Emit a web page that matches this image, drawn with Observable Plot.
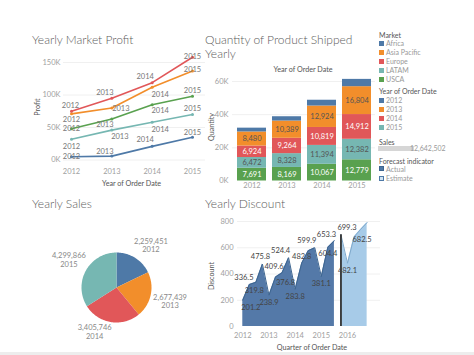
<!DOCTYPE html>
<html><head><meta charset="utf-8">
<script src="https://cdn.jsdelivr.net/npm/d3@7"></script>
<script src="https://cdn.jsdelivr.net/npm/@observablehq/plot@0.6"></script>
<style>
body{margin:0;background:#fff;}
#root{position:relative;width:474px;height:355px;overflow:hidden;background:#fff;font-family:Lato,"Open Sans",sans-serif;}
.t{position:absolute;white-space:nowrap;line-height:1;}
.sw{position:absolute;width:5px;height:5px;}
svg.pl{position:absolute;overflow:visible;}
</style></head>
<body><div id="root"></div>
<script>
// ---------- DATA ----------
const years = [2012, 2013, 2014, 2015];
const markets = ["Africa", "Asia Pacific", "Europe", "LATAM", "USCA"];
const marketColors = ["#4e79a7", "#f28e2b", "#e15759", "#76b7b2", "#59a14f"];
const yearColors = ["#4e79a7", "#f28e2b", "#e15759", "#76b7b2"];

// Yearly Market Profit
const profitAfrica = [5000, 6000, 21000, 35000];
const profitAsiaPacific = [71000, 80000, 112000, 137000];
const profitEurope = [75000, 95000, 119000, 158000];
const profitLATAM = [32000, 46000, 58000, 70000];
const profitUSCA = [48000, 63000, 85000, 98000];
const profitTicks = [0, 50000, 100000, 150000];

// Quantity of Product Shipped
const qtyAfrica = [2300, 2600, 3500, 4400];
const qtyAsiaPacific = [8480, 10389, 12924, 16804];
const qtyEurope = [6924, 9264, 10819, 14912];
const qtyLATAM = [6472, 8328, 11394, 12382];
const qtyUSCA = [7691, 8169, 10067, 12779];
const qtyTicks = [0, 20000, 40000, 60000];

// Yearly Sales
const salesByYear = [2259451, 2677439, 3405746, 4299866];
const totalSalesLabel = "12,642,502";

// Yearly Discount
const discountTicks = [0, 200, 400, 600, 800];
const quarterTicks = [2012, 2013, 2014, 2015, 2016];
const actualQuarters = ["2012 Q1","2012 Q2","2012 Q3","2012 Q4","2013 Q1","2013 Q2","2013 Q3","2013 Q4","2014 Q1","2014 Q2","2014 Q3","2014 Q4","2015 Q1","2015 Q2","2015 Q3"];
const actualDiscount = [201.2, 319.8, 336.5, 475.8, 238.9, 376.8, 409.6, 524.4, 283.8, 482.8, 578, 599.9, 381.1, 604.4, 653.3];
const estimateQuarters = ["2015 Q4","2016 Q1","2016 Q2","2016 Q3","2016 Q4"];
const estimateDiscount = [699.3, 482.1, 682.5, 740, 792];

// ---------- HELPERS ----------
const FONT = 'Lato, "Open Sans", sans-serif';
const root = document.getElementById("root");
function txt(s, x, y, o = {}) {
  const size = o.size || 7.5;
  const d = document.createElement("div");
  d.className = "t";
  d.textContent = s;
  d.style.fontSize = size + "px";
  d.style.color = o.color || "#888";
  if (o.weight) d.style.fontWeight = o.weight;
  d.style.left = x + "px";
  d.style.top = y + "px";
  let tr = o.anchor === "middle" ? "translate(-50%,-50%)" : o.anchor === "end" ? "translate(-100%,-50%)" : "translate(0,-50%)";
  if (o.rotate) tr = "translate(-50%,-50%) rotate(-90deg)";
  d.style.transform = tr;
  root.appendChild(d);
  return d;
}
function sw(x, y, color, border) {
  const d = document.createElement("div");
  d.className = "sw";
  d.style.left = x + "px"; d.style.top = (y - 2.5) + "px";
  d.style.background = color;
  if (border) { d.style.boxSizing = "border-box"; d.style.border = "1px solid " + border; }
  root.appendChild(d);
}
function place(svg, left, top) {
  svg.classList.add("pl");
  svg.style.left = left + "px"; svg.style.top = top + "px";
  root.appendChild(svg);
}
// group labels by constant pixel nudge -> one Plot.text per nudge
function nudged(rows, nudgeOf, opts) {
  const groups = d3.group(rows.filter(r => nudgeOf(r)), r => nudgeOf(r).join(","));
  return Array.from(groups, ([k, g]) => {
    const [dx, dy] = k.split(",").map(Number);
    return Plot.text(g, {...opts, dx, dy});
  });
}
const baseStyle = {fontFamily: FONT, fontSize: "7.5px", background: "transparent", color: "#999", overflow: "visible"};

// ---------- TITLES ----------
const titleStyle = {size: 12, color: "#5c5c5c", weight: 300};
txt("Yearly Market Profit", 32, 39.5, titleStyle);
txt("Quantity of Product Shipped", 205, 39.5, titleStyle);
txt("Yearly", 205, 53.5, titleStyle);
txt("Yearly Sales", 32, 204, titleStyle);
txt("Yearly Discount", 205, 204, titleStyle);
const axTitle = {color: "#555", size: 7.2};

// ---------- LINE CHART ----------
const profitSeries = {"Africa": profitAfrica, "Asia Pacific": profitAsiaPacific, "Europe": profitEurope, "LATAM": profitLATAM, "USCA": profitUSCA};
const profitRows = [];
markets.forEach(m => years.forEach((y, i) => profitRows.push({market: m, year: y, profit: profitSeries[m][i]})));
const lineNudge = {
  "Europe": [[-1,-6],[-7,-6],[-7,-6],[0,-1]],
  "Asia Pacific": [[0,6],[9,1],[8,7],[0,-1]],
  "USCA": [[0,0],[-7,6],[8,6],[0,-6]],
  "LATAM": [[0,7],[8,6],[8,7],[0,-6]],
  "Africa": [[0,0],[-7,-5],[-7,-7],[0,-5]]
};
const lineTop = 50;
place(Plot.plot({
  width: 205, height: 125, marginLeft: 63, marginRight: 0, marginTop: 0, marginBottom: 10,
  style: baseStyle,
  x: {domain: [2012, 2015], range: [71, 192]},
  y: {domain: [0, 150000], range: [159.5 - lineTop, 62 - lineTop]},
  color: {domain: markets, range: marketColors},
  marks: [
    Plot.gridY(profitTicks, {stroke: "#f0f0f0", strokeOpacity: 1}),
    Plot.axisY({ticks: profitTicks, tickFormat: d => d / 1000 + "K", tickSize: 0, tickPadding: 3, label: null, color: "#a0a0a0"}),
    Plot.axisX({ticks: years, tickFormat: d => String(d), tickSize: 0, tickPadding: 3, label: null, color: "#a0a0a0"}),
    Plot.line(profitRows, {x: "year", y: "profit", stroke: "market", strokeWidth: 1.6}),
    Plot.dot(profitRows, {x: "year", y: "profit", fill: "market", r: 1.5}),
    ...nudged(profitRows, r => lineNudge[r.market][years.indexOf(r.year)], {x: "year", y: "profit", text: d => String(d.year), fill: "#777", fontSize: 7.5})
  ]
}), 0, lineTop);
txt("Profit", 38, 107, {...axTitle, rotate: true});
txt("Year of Order Date", 131.5, 183.5, {...axTitle, anchor: "middle"});

// ---------- STACKED BAR ----------
const qtySeries = {"Africa": qtyAfrica, "Asia Pacific": qtyAsiaPacific, "Europe": qtyEurope, "LATAM": qtyLATAM, "USCA": qtyUSCA};
const stackOrder = ["USCA", "LATAM", "Europe", "Asia Pacific", "Africa"];
const qtyRows = [];
years.forEach((y, i) => stackOrder.forEach(m => qtyRows.push({year: y, market: m, qty: qtySeries[m][i]})));
const barTop = 60;
const lightText = new Set(["USCA", "Europe"]);
place(Plot.plot({
  width: 175, height: 135, marginLeft: 32, marginRight: 0, marginTop: 0, marginBottom: 135 - (180.5 - barTop),
  style: baseStyle,
  x: {domain: years, paddingInner: 0.185, paddingOuter: 0.1},
  y: {domain: [0, 60000], range: [180.5 - barTop, 81 - barTop]},
  color: {domain: markets, range: marketColors},
  marks: [
    Plot.gridY(qtyTicks.slice(1), {stroke: "#f0f0f0", strokeOpacity: 1}),
    Plot.axisY({ticks: qtyTicks, tickFormat: d => d / 1000 + "K", tickSize: 0, tickPadding: 4, label: null, color: "#a0a0a0"}),
    Plot.axisX({tickFormat: d => String(d), tickSize: 0, tickPadding: 2, label: null, color: "#a0a0a0"}),
    Plot.barY(qtyRows, {x: "year", y: "qty", fill: "market", order: null}),
    Plot.text(qtyRows, Plot.stackY({x: "year", y: "qty", order: null, text: d => lightText.has(d.market) ? d3.format(",")(d.qty) : "", fill: "white", fontSize: 7.5})),
    Plot.text(qtyRows, Plot.stackY({x: "year", y: "qty", order: null, text: d => (d.market === "LATAM" || d.market === "Asia Pacific") ? d3.format(",")(d.qty) : "", fill: "#555", fontSize: 7.5}))
  ]
}), 200, barTop);
txt("Year of Order Date", 303, 70, {...axTitle, anchor: "middle"});
txt("Quantity", 212, 127, {...axTitle, rotate: true});

// ---------- LEGEND ----------
const lg = {color: "#555", size: 7};
txt("Market", 379, 35, lg);
markets.forEach((m, i) => { const y = 43 + i * 9.1; sw(379, y, marketColors[i]); txt(m, 386, y, {color: "#999", size: 7}); });
txt("Year of Order Date", 379, 91, lg);
years.forEach((yr, i) => { const y = 100 + i * 9; sw(379, y, yearColors[i]); txt(String(yr), 386, y, {color: "#999", size: 7}); });
txt("Sales", 379, 141.5, lg);
(() => { const b = document.createElement("div"); b.style.cssText = "position:absolute;left:378px;top:145.5px;width:36px;height:5px;background:#d6d6d6;"; root.appendChild(b); })();
txt(totalSalesLabel, 410, 148, {color: "#999", size: 7});
txt("Forecast indicator", 379, 160.5, lg);
sw(379, 168.5, "#4e79a7", "#3d6590"); txt("Actual", 386, 168.5, {color: "#999", size: 7});
sw(379, 178, "#cfe2f1", "#4e79a7"); txt("Estimate", 386, 178, {color: "#999", size: 7});

// ---------- PIE ----------
const totalSales = d3.sum(salesByYear);
const pieRows = [];
const pieLabels = [];
let acc = 0;
salesByYear.forEach((v, i) => {
  const a0 = acc / totalSales * 2 * Math.PI, a1 = (acc + v) / totalSales * 2 * Math.PI;
  acc += v;
  pieRows.push({year: years[i], px: 0, py: 0});
  const n = Math.max(2, Math.ceil((a1 - a0) / 0.03));
  for (let k = 0; k <= n; k++) { const a = a0 + (a1 - a0) * k / n; pieRows.push({year: years[i], px: Math.sin(a), py: Math.cos(a)}); }
  const am = (a0 + a1) / 2;
  pieLabels.push({year: years[i], px: 1.42 * Math.sin(am), py: 1.42 * Math.cos(am), text: d3.format(",")(v) + "\n" + years[i]});
});
const pieNudge = {2012: [8, 0], 2013: [5, 3], 2014: [-14, -5], 2015: [-4, -4]};
const pieTop = 200, cx = 116, cy = 287, R = 35;
place(Plot.plot({
  width: 200, height: 150, margin: 0,
  style: baseStyle,
  x: {domain: [-1, 1], range: [cx - R, cx + R], axis: null},
  y: {domain: [-1, 1], range: [cy - pieTop + R, cy - pieTop - R], axis: null},
  color: {domain: years, range: yearColors},
  marks: [
    Plot.line(pieRows, {x: "px", y: "py", z: "year", fill: "year", stroke: null, curve: "linear-closed"}),
    ...nudged(pieLabels, r => pieNudge[r.year], {x: "px", y: "py", text: "text", fill: "#888", fontSize: 7.5, lineHeight: 1.15})
  ]
}), 0, pieTop);

// ---------- AREA (DISCOUNT) ----------
const toT = q => { const [y, qq] = q.split(" Q"); return +y + (+qq - 1) / 4; };
const actualRows = actualQuarters.map((q, i) => ({t: toT(q), v: actualDiscount[i], kind: "a", i}));
const estRows = estimateQuarters.map((q, i) => ({t: toT(q), v: estimateDiscount[i], kind: "e", i}));
const discNudgeA = {0:[8,8],1:[5,6],2:[-12,-5],3:[-2,-7],4:[0,7],5:[10,6],6:[-8,-6],7:[-8,-7],8:[0,7],9:[0,-7],11:[-8,-7],12:[0,7],13:[0,6],14:[-8,-6]};
const discNudgeE = {0:[6,-7],1:[0,7],2:[8,3]};
const discTop = 200;
place(Plot.plot({
  width: 180, height: 150, marginLeft: 37, marginRight: 0, marginTop: 0, marginBottom: 150 - (326 - discTop),
  style: baseStyle,
  x: {domain: [2012, 2016], range: [242.3 - 200, 347 - 200]},
  y: {domain: [0, 800], range: [326 - discTop, 221 - discTop]},
  marks: [
    Plot.gridY(discountTicks.slice(1), {stroke: "#f0f0f0", strokeOpacity: 1}),
    Plot.areaY(actualRows, {x: "t", y: "v", fill: "#5479a8"}),
    Plot.lineY(actualRows, {x: "t", y: "v", stroke: "#3d6590", strokeWidth: 1}),
    Plot.areaY(estRows, {x: "t", y: "v", fill: "#a7cbe8"}),
    Plot.lineY(estRows, {x: "t", y: "v", stroke: "#7fa9cc", strokeWidth: 1}),
    Plot.ruleX(estRows.slice(0, 1), {x: "t", y1: 0, y2: "v", stroke: "#333", strokeWidth: 1.8}),
    Plot.axisY({ticks: discountTicks, tickSize: 0, tickPadding: 4, label: null, color: "#a0a0a0"}),
    Plot.axisX({ticks: quarterTicks, tickFormat: d => String(d), tickSize: 0, tickPadding: 6, label: null, color: "#a0a0a0"}),
    ...nudged(actualRows, r => discNudgeA[r.i], {x: "t", y: "v", text: d => String(d.v), fill: "#444", fontSize: 7.5}),
    ...nudged(estRows, r => discNudgeE[r.i], {x: "t", y: "v", text: d => String(d.v), fill: "#444", fontSize: 7.5})
  ]
}), 200, discTop);
txt("Discount", 212, 276, {...axTitle, rotate: true});
txt("Quarter of Order Date", 312, 347.5, {...axTitle, anchor: "middle"});

// bottom strip
(() => { const b = document.createElement("div"); b.style.cssText = "position:absolute;left:0;top:352px;width:474px;height:3px;background:#ededed;"; root.appendChild(b); })();
</script>
</body></html>
